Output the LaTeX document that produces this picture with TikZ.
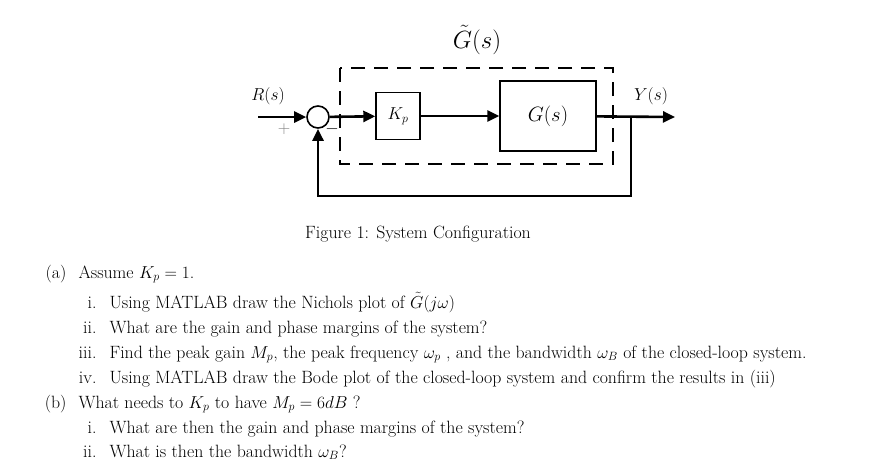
\documentclass[tikz,border=0pt]{standalone}
\usetikzlibrary{positioning,arrows.meta}
\begin{document}
\begin{tikzpicture}
[x=1pt,y=-1pt,
block/.style={draw,line width=1.4pt,rectangle,inner sep=0pt},
sig/.style={line width=2.6pt,-{Triangle[length=12pt,width=11pt]}},
item/.style={anchor=base west,font=\fontsize{17.8}{20}\selectfont},
num/.style={anchor=base east,font=\fontsize{17.8}{20}\selectfont}]
\useasboundingbox (0,0) rectangle (890,467);
%blocks
	\node[draw,line width=1.6pt,circle,minimum size=22pt] (sum) at (318,117) {};
	\node[block,minimum width=44pt,minimum height=47pt,font=\fontsize{17}{19}\selectfont] (kp) at (398,116) {$K_p$};
	\node[block,minimum width=96pt,minimum height=70pt,font=\fontsize{22}{24}\selectfont] (g) at (548,116) {$G(s)$};
	\draw[line width=1.4pt,dash pattern=on 14pt off 9pt] (340,68) rectangle (613,164);
	\node[font=\fontsize{30}{32}\selectfont] (gt) at (477,40) {$\tilde G(s)$};
%signals
	\coordinate (in) at (258,117);
	\coordinate (out) at (675,117);
	\coordinate (br) at (631,117);
	\coordinate (bl) at (631,196);
	\coordinate (fb) at (318,196);
	\draw[sig] (in) -- (sum);
	\draw[sig] (sum) -- (kp);
	\draw[sig] (kp) -- (g);
	\draw[sig] (g) -- (out);
	\draw[sig] (br) -- (bl) -- (fb) -- (sum);
	\node[font=\fontsize{18}{20}\selectfont] (r) at (268,96) {$R(s)$};
	\node[font=\fontsize{18}{20}\selectfont] (y) at (651,96) {$Y(s)$};
	\node[gray,font=\fontsize{16}{18}\selectfont] (plus) at (284,129) {$+$};
	\node[font=\fontsize{16}{18}\selectfont] (minus) at (332,129) {$-$};
	\node[item,anchor=base] (cap) at (418,238) {Figure 1: System Configuration};
%questions
	\node[num] at (70,278) {(a)};
	\node[item] at (75,278) {Assume $K_p=1$.};
	\foreach \n/\y/\t in {i./308/{Using MATLAB draw the Nichols plot of $\tilde G(j\omega)$},
	ii./333/{What are the gain and phase margins of the system?},
	iii./358/{Find the peak gain $M_p$, the peak frequency $\omega_p$ , and the bandwidth $\omega_B$ of the closed-loop system.},
	iv./383/{Using MATLAB draw the Bode plot of the closed-loop system and confirm the results in (iii)}}
	{
	\node[num] at (100,\y) {\n};
	\node[item] at (106,\y) {\t};
	}
	\node[num] at (70,408) {(b)};
	\node[item] at (75,408) {What needs to $K_p$ to have $M_p=6dB$ ?};
	\node[num] at (100,433) {i.};
	\node[item] at (106,433) {What are then the gain and phase margins of the system?};
	\node[num] at (100,457) {ii.};
	\node[item] at (106,457) {What is then the bandwidth $\omega_B$?};
\end{tikzpicture}
\end{document}
